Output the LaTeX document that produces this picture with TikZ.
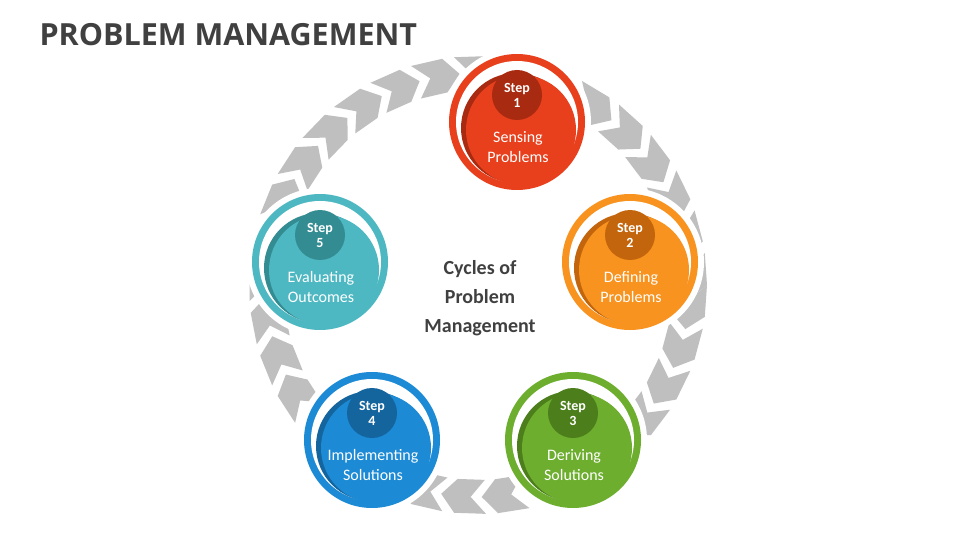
\documentclass[tikz,border=0pt]{standalone}
\usepackage{fontspec}
\setmainfont{Carlito}
\newfontfamily\titlefont{Open Sans}
\begin{document}
\begin{tikzpicture}[x=1pt,y=1pt,
  stext/.style={text=white,font=\bfseries\fontsize{14}{15}\selectfont,align=center},
  mtext/.style={text=white,font=\fontsize{16}{20}\selectfont,align=center}]
\useasboundingbox (0,0) rectangle (960,-540);
\fill[white] (0,0) rectangle (960,-540);
\node[anchor=west,text=black!75,font=\titlefont\bfseries\fontsize{30.5}{33}\selectfont] (title) at (36,-35) {PROBLEM MANAGEMENT};
% ring of chevrons
\begin{scope}[shift={(478,-285)}]
\foreach \a in {0,11,...,352}{
  \fill[gray!50] (\a:195pt) -- (\a-4:212pt) -- (\a:229pt) -- (\a+8:229pt) -- (\a+4:212pt) -- (\a+8:195pt) -- cycle;
}
\end{scope}
\node[text=black!75,font=\bfseries\fontsize{20}{29}\selectfont,align=center] (center) at (480,-298) {Cycles of\\Problem\\Management};
\newcommand{\stepcirc}[7]{%
  \fill[white] (#1,#2) circle (74);
  \fill[#3] (#1,#2) circle (68);
  \fill[white] (#1,#2) circle (61);
  \fill[#4] (#1-1,#2-6) circle (55);
  \fill[#3] (#1+4,#2-8) circle (55);
  \fill[#4] (#1,#2+27) circle (25);
  \node[stext] (s#5) at (#1,#2+27) {Step\\#5};
  \node[mtext] (t#5) at (#1+1,#2-25) {#6\\#7};
}
\definecolor{c1}{HTML}{E8401C}\definecolor{d1}{HTML}{A82A10}
\definecolor{c2}{HTML}{F7931E}\definecolor{d2}{HTML}{C2650C}
\definecolor{c3}{HTML}{6DAE2E}\definecolor{d3}{HTML}{4C7E1C}
\definecolor{c4}{HTML}{1C8AD4}\definecolor{d4}{HTML}{14649E}
\definecolor{c5}{HTML}{4DB8C2}\definecolor{d5}{HTML}{348C93}
\stepcirc{517}{-122}{c1}{d1}{1}{Sensing}{Problems}
\stepcirc{630}{-262}{c2}{d2}{2}{Defining}{Problems}
\stepcirc{573}{-440}{c3}{d3}{3}{Deriving}{Solutions}
\stepcirc{372}{-440}{c4}{d4}{4}{Implementing}{Solutions}
\stepcirc{320}{-262}{c5}{d5}{5}{Evaluating}{Outcomes}
\end{tikzpicture}
\end{document}
